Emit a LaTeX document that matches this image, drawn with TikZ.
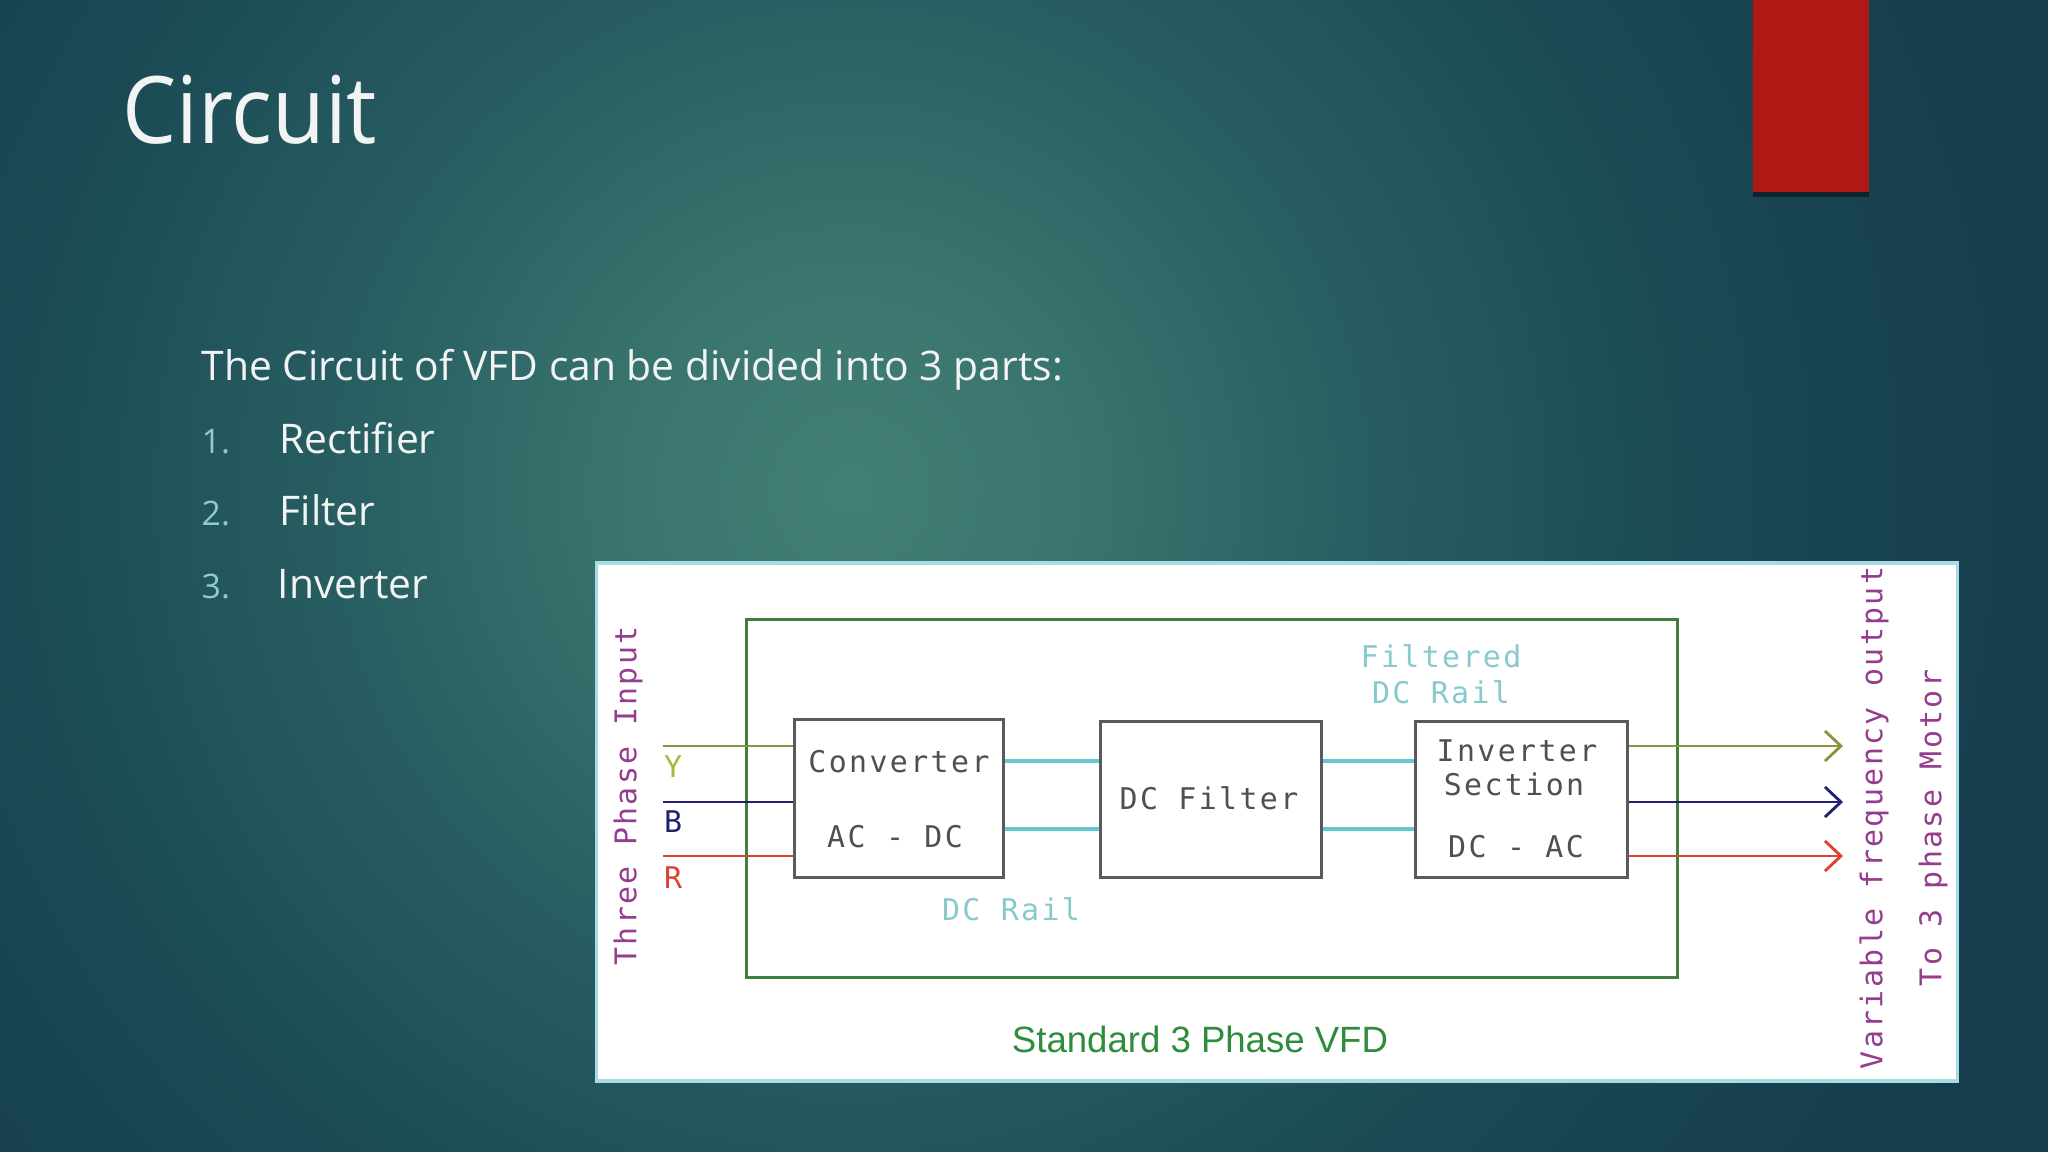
\documentclass[tikz,border=0pt]{standalone}
\usepackage{fontspec}
\setmainfont{Open Sans}
\newfontfamily\titlefont[FakeStretch=0.92]{Open Sans}
\newfontfamily\diagfont[LetterSpace=8]{DejaVu Sans Mono}
\newfontfamily\capfont{Liberation Sans}
\usetikzlibrary{arrows.meta}
\definecolor{bgdark}{HTML}{163D4C}
\definecolor{bgc0}{HTML}{427F73}
\definecolor{bgc1}{HTML}{3A766F}
\definecolor{bgc2}{HTML}{285F62}
\definecolor{bgc3}{HTML}{1B4A55}
\definecolor{bgc4}{HTML}{163E4E}
\definecolor{txtw}{HTML}{F2F4F4}
\definecolor{numc}{HTML}{8CCBD4}
\definecolor{redbar}{HTML}{B01814}
\definecolor{panelb}{HTML}{A6DCE2}
\definecolor{boxg}{HTML}{5A5A5A}
\definecolor{grnbox}{HTML}{3F7D40}
\definecolor{railc}{HTML}{62C8D2}
\definecolor{railtxt}{HTML}{86CACE}
\definecolor{wy}{HTML}{8E923E}
\definecolor{ly}{HTML}{AEB43C}
\definecolor{wb}{HTML}{222070}
\definecolor{wr}{HTML}{E0402E}
\definecolor{purp}{HTML}{963C8E}
\definecolor{capg}{HTML}{2E8C3C}
\definecolor{dtxt}{HTML}{505050}
\pgfdeclareradialshading{bgglow}{\pgfpoint{0bp}{0bp}}{color(0bp)=(bgc0); color(8bp)=(bgc1); color(19bp)=(bgc2); color(32bp)=(bgc3); color(45bp)=(bgc4); color(50bp)=(bgdark)}
\tikzset{
  blk/.style={draw=boxg, line width=0.85pt, inner sep=0pt},
  gbox/.style={draw=grnbox, line width=0.8pt, inner sep=0pt},
  rail/.style={draw=railc, line width=1.3pt},
  wire/.style={line width=0.8pt},
  otip/.style={-{Straight Barb[length=0.16cm,width=0.30cm,line width=0.8pt]}},
  dlabel/.style={font=\diagfont\fontsize{8.5pt}{10pt}\selectfont, text=dtxt, inner sep=0pt},
  rlabel/.style={font=\diagfont\fontsize{8.5pt}{10pt}\selectfont, text=railtxt, inner sep=0pt},
  plabel/.style={font=\diagfont\fontsize{8.5pt}{10pt}\selectfont, text=purp, inner sep=0pt, rotate=90},
  body/.style={text=txtw, inner sep=0pt, font=\fontsize{11.6pt}{14pt}\selectfont},
  num/.style={text=numc, inner sep=0pt, font=\fontsize{9.6pt}{12pt}\selectfont}
}
\begin{document}
\begin{tikzpicture}[x=0.01cm,y=-0.01cm]
\useasboundingbox (0,0) rectangle (2048,1152);
\fill[bgdark] (0,0) rectangle (2048,1152);
\begin{scope}
\clip (0,0) rectangle (2048,1152);
\pgftransformshift{\pgfpointxy{850}{490}}
\pgftransformscale{7.37}
\pgflowlevelsynccm
\pgfuseshading{bgglow}
\end{scope}
% red bar
\fill[black, opacity=0.45] (1753,190) rectangle (1869,197);
\fill[redbar] (1753,0) rectangle (1869,192);
% title and text
\node[anchor=base west, text=txtw, inner sep=0pt, font=\titlefont\fontsize{26.5pt}{30pt}\selectfont] (title) at (122,144) {Circuit};
\node[body, anchor=base west] (intro) at (201,381) {The Circuit of VFD can be divided into 3 parts:};
\node[num, anchor=base west] (n1) at (201,454) {1.};
\node[body, anchor=base west] (i1) at (279,454) {Rectifier};
\node[num, anchor=base west] (n2) at (201,526) {2.};
\node[body, anchor=base west] (i2) at (279,526) {Filter};
\node[num, anchor=base west] (n3) at (201,598) {3.};
\node[body, anchor=base west] (i3) at (277,598) {Inverter};
% panel
\node[draw=panelb, line width=1pt, fill=white, minimum width=13.60cm, minimum height=5.18cm, inner sep=0pt] (panel) at (1277,822) {};
% boxes
\node[gbox, minimum width=9.30cm, minimum height=3.57cm] (vfd) at (1212,798.5) {};
\node[blk, minimum width=2.08cm, minimum height=1.57cm] (conv) at (899,798.5) {};
\node[blk, minimum width=2.20cm, minimum height=1.55cm] (filt) at (1211,799.5) {};
\node[blk, minimum width=2.11cm, minimum height=1.55cm] (inv) at (1521.5,799.5) {};
% coordinates
\coordinate (iY) at (663,746);
\coordinate (iB) at (663,802);
\coordinate (iR) at (663,856);
\coordinate (oY) at (1843,746);
\coordinate (oB) at (1843,802);
\coordinate (oR) at (1843,856);
\coordinate (rA) at (0,761);
\coordinate (rB) at (0,829);
% input wires
\draw[wire, wy] (iY) -- (iY -| conv.west);
\draw[wire, wb] (iB) -- (iB -| conv.west);
\draw[wire, wr] (iR) -- (iR -| conv.west);
% rails
\draw[rail] (conv.east |- rA) -- (filt.west |- rA);
\draw[rail] (conv.east |- rB) -- (filt.west |- rB);
\draw[rail] (filt.east |- rA) -- (inv.west |- rA);
\draw[rail] (filt.east |- rB) -- (inv.west |- rB);
% outputs
\draw[wire, wy, otip] (inv.east |- oY) -- (oY);
\draw[wire, wb, otip] (inv.east |- oB) -- (oB);
\draw[wire, wr, otip] (inv.east |- oR) -- (oR);
% phase letters
\node[dlabel, text=ly] (lY) at (673,767) {Y};
\node[dlabel, text=wb] (lB) at (673,822) {B};
\node[dlabel, text=wr] (lR) at (673,878) {R};
% box texts
\node[dlabel] (t1) at (899,762) {Converter};
\node[dlabel] (t2) at (895,837) {AC - DC};
\node[dlabel] (t3) at (1209,798) {DC Filter};
\node[dlabel] (t4) at (1517,751) {Inverter};
\node[dlabel] (t5) at (1514,784) {Section};
\node[dlabel] (t6) at (1516,847) {DC - AC};
\node[rlabel] (r1) at (1441,656) {Filtered};
\node[rlabel] (r2) at (1441,692) {DC Rail};
\node[rlabel] (r3) at (1011,909) {DC Rail};
% rotated labels
\node[plabel] (tpi) at (628,796) {Three Phase Input};
\node[plabel] (vfo) at (1874,818) {Variable frequency output};
\node[plabel] (tpm) at (1933,828) {To 3 phase Motor};
% caption
\node[anchor=base, text=capg, inner sep=0pt, font=\capfont\fontsize{10.4pt}{12pt}\selectfont] (cap) at (1200,1052) {Standard 3 Phase VFD};
\end{tikzpicture}
\end{document}
